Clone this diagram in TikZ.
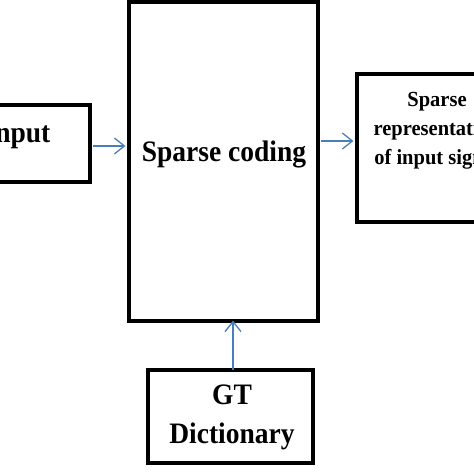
\documentclass[tikz,border=0pt]{standalone}
\usepackage{fontspec}
\setmainfont{Liberation Serif}
\usetikzlibrary{arrows.meta}
\definecolor{arrowblue}{HTML}{4A7EBB}
\tikzset{
  blockbox/.style={draw=black, line width=3.2pt, fill=white, inner sep=0pt},
  bigtext/.style={font=\bfseries\fontsize{27.5}{36}\selectfont, align=center, yscale=1.08},
  smalltext/.style={font=\bfseries\fontsize{20.5}{27.5}\selectfont, align=center, yscale=1.05},
  conn/.style={draw=arrowblue, line width=1.3pt, -{Straight Barb[length=10pt, width=16pt, line width=1.3pt]}}
}
\begin{document}
\begin{tikzpicture}[x=1pt, y=-1pt]
  \useasboundingbox (0,0) rectangle (474,474);
  \clip (0,0) rectangle (474,474);
  \fill[white] (0,0) rectangle (474,474);
  % boxes
  \node[blockbox, minimum width=145pt, minimum height=77pt] (input) at (17.5,143.5) {};
  \node[blockbox, minimum width=189pt, minimum height=319pt] (coding) at (223.5,161.5) {};
  \node[blockbox, minimum width=160pt, minimum height=148pt] (repr) at (437,148) {};
  \node[blockbox, minimum width=165pt, minimum height=93pt] (dict) at (230.5,416.5) {};
  % texts
  \node[bigtext] (inputtxt) at (17.5,136) {Input};
  \node[bigtext] (codingtxt) at (224,154) {Sparse coding};
  \node[smalltext] (reprtxt) at (437,131) {Sparse\\representation\\of input signal};
  \node[bigtext] (dicttxt) at (232,417) {GT\\Dictionary};
  % connectors
  \coordinate (a1s) at (input.east |- 0,146);
  \coordinate (a1e) at (coding.west |- 0,146);
  \draw[conn] ([xshift=1.6pt]a1s) -- ([xshift=-2pt]a1e);
  \coordinate (a2s) at (coding.east |- 0,141);
  \coordinate (a2e) at (repr.west |- 0,141);
  \draw[conn] ([xshift=1.6pt]a2s) -- ([xshift=-2pt]a2e);
  \coordinate (a3s) at (233,0 |- dict.north);
  \coordinate (a3e) at (233,0 |- coding.south);
  \draw[conn] ([yshift=-1.6pt]a3s) -- ([yshift=2pt]a3e);
\end{tikzpicture}
\end{document}
